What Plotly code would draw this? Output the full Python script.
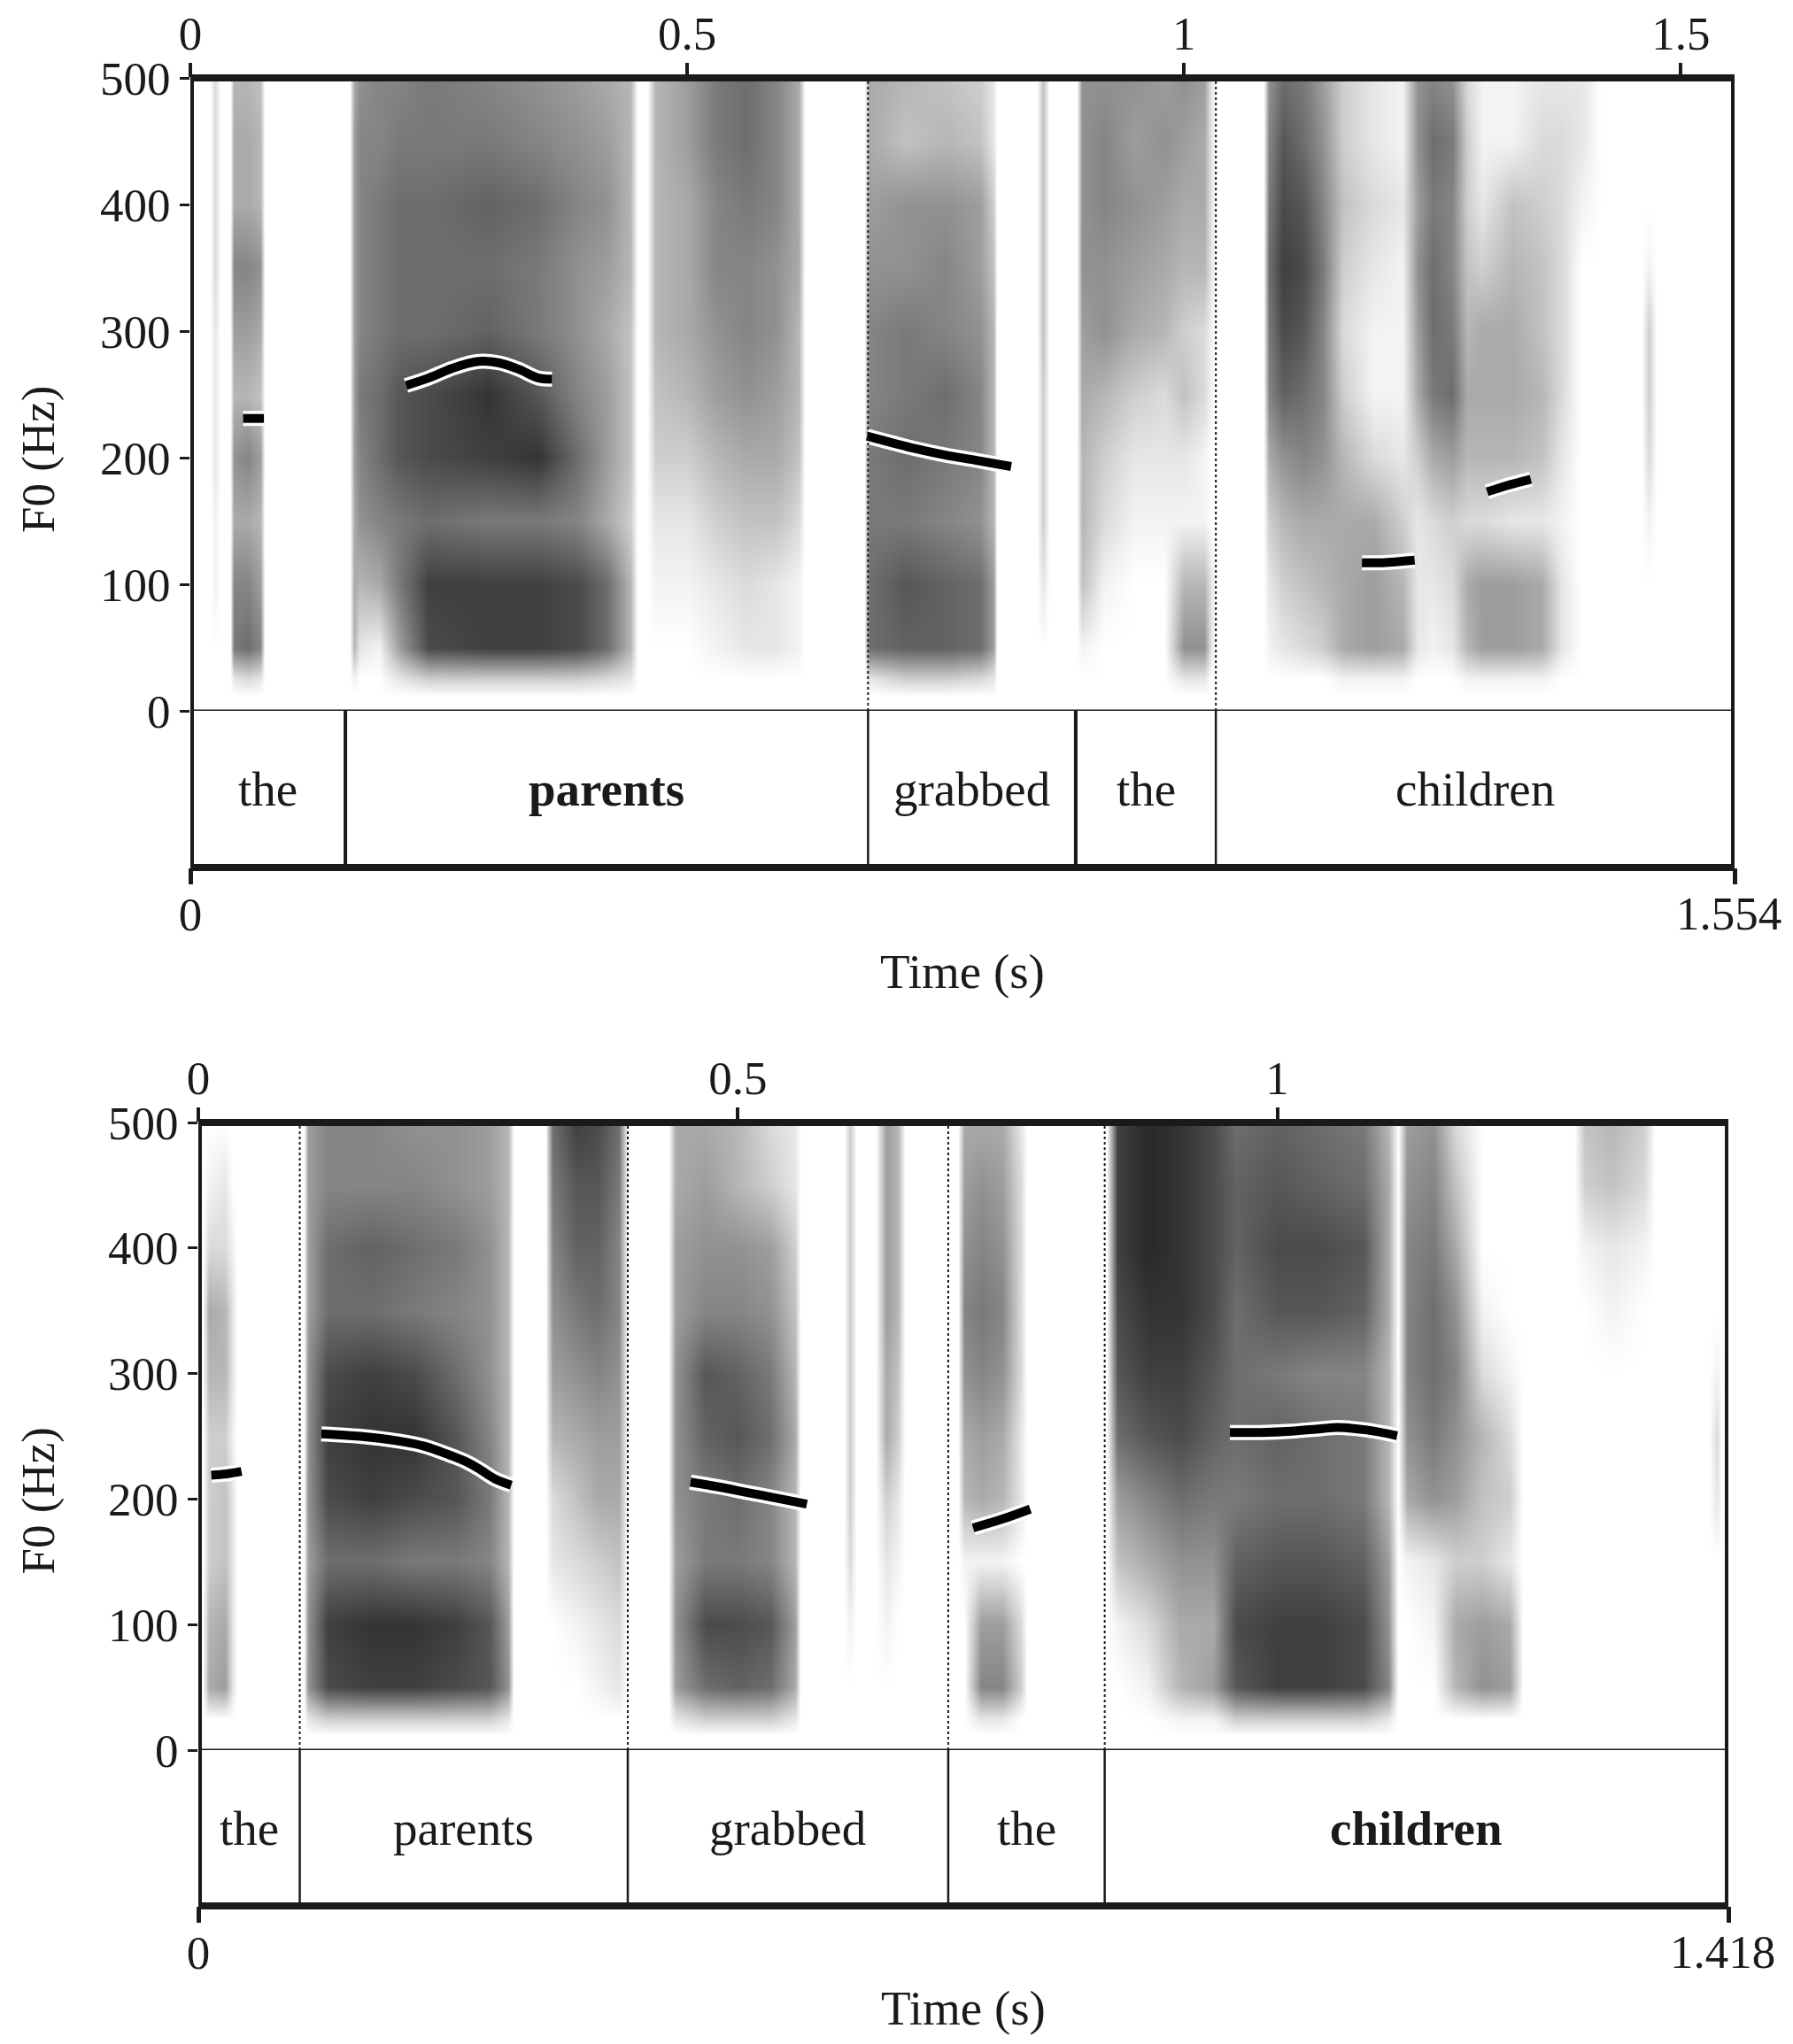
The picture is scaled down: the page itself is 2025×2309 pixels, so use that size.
import plotly.graph_objects as go

# ─────────────────────────────────────────────
# 1. DATA
# ─────────────────────────────────────────────
FREQS = [25, 50, 100, 150, 200, 250, 300, 350, 400, 450, 500]   # Hz rows of spectrogram
W = [0] * 11                                                      # white (silent) column

# --- top utterance: "the PARENTS grabbed the children" ---
top_dur = 1.554
top_words = ["the", "<b>parents</b>", "grabbed", "the", "children"]
top_bounds = [0, 0.156, 0.682, 0.891, 1.032, 1.554]
top_dashed = [0.682, 1.032]           # boundaries drawn dotted through the spectrogram
top_thick = [0.156, 0.891]            # tier boundaries drawn heavier

top_spec_t = [
    0.000, 0.020, 0.025, 0.030, 0.040, 0.044, 0.058, 0.070, 0.075,
    0.160, 0.165, 0.170, 0.190, 0.210, 0.240, 0.300, 0.350, 0.390, 0.420, 0.443, 0.450,
    0.460, 0.468, 0.500, 0.530, 0.560, 0.590, 0.612, 0.618,
    0.678, 0.683, 0.720, 0.760, 0.795, 0.808, 0.812,
    0.852, 0.858, 0.864,
    0.892, 0.897, 0.920, 0.950, 0.980, 1.000, 1.020, 1.027, 1.032,
    1.080, 1.085, 1.100, 1.120, 1.140, 1.160, 1.190, 1.220, 1.235, 1.250, 1.270, 1.285,
    1.300, 1.330, 1.360, 1.380, 1.400, 1.420,
    1.460, 1.468, 1.476, 1.554,
]
top_spec_z = [
    W, W,
    [0, 0, 0.05, 0.05, 0.1, 0.1, 0.1, 0.15, 0.15, 0.15, 0.15],
    W, W,
    [0.1, 0.55, 0.5, 0.35, 0.45, 0.3, 0.4, 0.5, 0.35, 0.35, 0.3],
    [0.15, 0.6, 0.5, 0.35, 0.5, 0.3, 0.4, 0.5, 0.35, 0.35, 0.3],
    [0.1, 0.5, 0.4, 0.3, 0.4, 0.25, 0.35, 0.45, 0.3, 0.3, 0.25],
    W,
    W,
    [0.05, 0.3, 0.35, 0.35, 0.4, 0.4, 0.4, 0.4, 0.4, 0.4, 0.35],
    [0, 0.1, 0.3, 0.45, 0.5, 0.55, 0.5, 0.5, 0.5, 0.5, 0.45],
    [0, 0.05, 0.35, 0.5, 0.6, 0.6, 0.55, 0.55, 0.55, 0.5, 0.5],
    [0.1, 0.4, 0.55, 0.55, 0.7, 0.7, 0.6, 0.6, 0.6, 0.55, 0.5],
    [0.2, 0.75, 0.8, 0.6, 0.75, 0.75, 0.6, 0.6, 0.6, 0.55, 0.55],
    [0.2, 0.8, 0.8, 0.55, 0.8, 0.85, 0.65, 0.6, 0.65, 0.55, 0.5],
    [0.2, 0.8, 0.8, 0.55, 0.85, 0.7, 0.55, 0.55, 0.6, 0.5, 0.45],
    [0.2, 0.75, 0.75, 0.5, 0.6, 0.5, 0.45, 0.45, 0.5, 0.45, 0.4],
    [0.15, 0.6, 0.6, 0.35, 0.4, 0.4, 0.35, 0.4, 0.45, 0.4, 0.35],
    [0.1, 0.3, 0.3, 0.2, 0.25, 0.25, 0.25, 0.3, 0.3, 0.3, 0.3],
    W,
    W,
    [0, 0, 0.05, 0.1, 0.2, 0.25, 0.3, 0.3, 0.3, 0.3, 0.3],
    [0, 0, 0.05, 0.1, 0.2, 0.3, 0.35, 0.35, 0.35, 0.4, 0.4],
    [0, 0.05, 0.1, 0.2, 0.3, 0.4, 0.45, 0.5, 0.5, 0.55, 0.55],
    [0, 0.1, 0.15, 0.25, 0.35, 0.45, 0.5, 0.5, 0.55, 0.6, 0.6],
    [0, 0.1, 0.1, 0.25, 0.35, 0.4, 0.45, 0.45, 0.5, 0.5, 0.5],
    [0, 0.05, 0.05, 0.15, 0.25, 0.3, 0.3, 0.35, 0.35, 0.35, 0.35],
    W,
    W,
    [0.1, 0.6, 0.6, 0.55, 0.55, 0.5, 0.5, 0.45, 0.4, 0.35, 0.35],
    [0.2, 0.65, 0.7, 0.55, 0.6, 0.55, 0.55, 0.45, 0.45, 0.25, 0.3],
    [0.2, 0.65, 0.65, 0.5, 0.55, 0.6, 0.5, 0.5, 0.45, 0.3, 0.25],
    [0.15, 0.6, 0.6, 0.45, 0.5, 0.5, 0.45, 0.4, 0.4, 0.25, 0.2],
    [0.1, 0.4, 0.4, 0.3, 0.3, 0.3, 0.3, 0.25, 0.2, 0.1, 0.1],
    W,
    W,
    [0, 0, 0.1, 0.2, 0.2, 0.2, 0.25, 0.25, 0.25, 0.25, 0.25],
    W,
    W,
    [0, 0.05, 0.25, 0.3, 0.3, 0.35, 0.4, 0.45, 0.45, 0.45, 0.45],
    [0, 0, 0.05, 0.15, 0.2, 0.3, 0.45, 0.45, 0.5, 0.5, 0.45],
    [0, 0, 0, 0.05, 0.1, 0.2, 0.35, 0.4, 0.45, 0.4, 0.45],
    [0, 0, 0, 0.05, 0.1, 0.15, 0.3, 0.35, 0.4, 0.45, 0.4],
    [0.1, 0.45, 0.3, 0.05, 0.1, 0.25, 0.2, 0.3, 0.35, 0.4, 0.45],
    [0.1, 0.45, 0.3, 0.05, 0.05, 0.15, 0.15, 0.3, 0.35, 0.35, 0.4],
    [0, 0.1, 0.1, 0, 0, 0.05, 0.05, 0.1, 0.1, 0.1, 0.1],
    W,
    W,
    [0, 0.05, 0.1, 0.2, 0.35, 0.5, 0.55, 0.6, 0.55, 0.5, 0.45],
    [0, 0.1, 0.2, 0.3, 0.45, 0.65, 0.75, 0.8, 0.75, 0.7, 0.6],
    [0, 0.15, 0.25, 0.35, 0.5, 0.6, 0.7, 0.75, 0.7, 0.6, 0.55],
    [0, 0.2, 0.3, 0.35, 0.45, 0.5, 0.5, 0.55, 0.5, 0.45, 0.4],
    [0.05, 0.35, 0.35, 0.35, 0.3, 0.2, 0.15, 0.2, 0.25, 0.2, 0.2],
    [0.05, 0.4, 0.4, 0.35, 0.15, 0.05, 0.05, 0.1, 0.15, 0.1, 0.1],
    [0.05, 0.35, 0.3, 0.2, 0.1, 0.05, 0.05, 0.05, 0.1, 0.05, 0.05],
    [0, 0.1, 0.1, 0.1, 0.2, 0.35, 0.4, 0.45, 0.4, 0.45, 0.45],
    [0, 0.05, 0.1, 0.15, 0.35, 0.55, 0.6, 0.6, 0.55, 0.6, 0.5],
    [0, 0.1, 0.15, 0.2, 0.4, 0.6, 0.55, 0.5, 0.5, 0.55, 0.45],
    [0.05, 0.3, 0.35, 0.15, 0.3, 0.35, 0.3, 0.25, 0.2, 0.2, 0.15],
    [0.05, 0.4, 0.4, 0.15, 0.3, 0.35, 0.35, 0.2, 0.1, 0.05, 0.05],
    [0.05, 0.4, 0.4, 0.1, 0.3, 0.35, 0.35, 0.3, 0.25, 0.05, 0.05],
    [0.05, 0.35, 0.35, 0.1, 0.25, 0.3, 0.25, 0.25, 0.2, 0.15, 0.1],
    [0, 0.1, 0.1, 0.05, 0.1, 0.15, 0.15, 0.15, 0.15, 0.15, 0.1],
    [0, 0, 0, 0, 0, 0, 0, 0, 0.05, 0.1, 0.1],
    W,
    W,
    [0, 0, 0, 0.05, 0.15, 0.2, 0.2, 0.05, 0, 0, 0],
    W,
    W,
]

top_f0 = [   # (times, Hz) for each voiced stretch
    ([0.053, 0.063, 0.074], [231, 231, 231]),
    ([0.217, 0.24, 0.265, 0.29, 0.31, 0.33, 0.35, 0.364], [257, 263, 271, 276, 275, 270, 263, 262]),
    ([0.681, 0.70, 0.73, 0.76, 0.79, 0.826], [217, 213, 207, 202, 198, 193]),
    ([1.179, 1.20, 1.232], [117, 117, 119]),
    ([1.305, 1.325, 1.349], [173, 178, 183]),
]

# --- bottom utterance: "the parents grabbed the CHILDREN" ---
bot_dur = 1.418
bot_words = ["the", "parents", "grabbed", "the", "<b>children</b>"]
bot_bounds = [0, 0.094, 0.398, 0.695, 0.840, 1.418]
bot_dashed = [0.094, 0.398, 0.695, 0.840]
bot_thick = []

bot_spec_t = [
    0.000, 0.004, 0.010, 0.025, 0.032, 0.036,
    0.098, 0.102, 0.120, 0.160, 0.200, 0.240, 0.270, 0.287, 0.292,
    0.322, 0.328, 0.350, 0.370, 0.390, 0.398,
    0.436, 0.442, 0.470, 0.500, 0.530, 0.553, 0.558,
    0.598, 0.604, 0.610, 0.628, 0.638, 0.648, 0.655,
    0.704, 0.710, 0.725, 0.745, 0.762, 0.768,
    0.842, 0.852, 0.880, 0.910, 0.940, 0.962, 1.000, 1.040, 1.080, 1.103, 1.112,
    1.120, 1.145, 1.165, 1.190, 1.215, 1.228,
    1.275, 1.285, 1.310, 1.340, 1.350,
    1.400, 1.407, 1.412, 1.418,
]
bot_spec_z = [
    W, W,
    [0, 0.35, 0.3, 0.2, 0.2, 0.2, 0.3, 0.35, 0.15, 0.05, 0],
    [0, 0.4, 0.35, 0.25, 0.25, 0.2, 0.3, 0.3, 0.15, 0.1, 0],
    [0, 0.1, 0.1, 0.1, 0.1, 0.05, 0.1, 0.1, 0.05, 0, 0],
    W,
    W,
    [0.1, 0.45, 0.45, 0.4, 0.45, 0.45, 0.45, 0.4, 0.4, 0.4, 0.4],
    [0.2, 0.75, 0.8, 0.6, 0.75, 0.8, 0.75, 0.6, 0.6, 0.5, 0.5],
    [0.2, 0.8, 0.85, 0.6, 0.8, 0.85, 0.8, 0.6, 0.65, 0.5, 0.5],
    [0.2, 0.8, 0.85, 0.55, 0.75, 0.85, 0.75, 0.55, 0.6, 0.5, 0.45],
    [0.2, 0.75, 0.8, 0.55, 0.7, 0.7, 0.6, 0.5, 0.55, 0.45, 0.45],
    [0.2, 0.7, 0.7, 0.5, 0.55, 0.5, 0.45, 0.45, 0.45, 0.4, 0.4],
    [0.1, 0.45, 0.4, 0.3, 0.3, 0.3, 0.3, 0.3, 0.3, 0.3, 0.3],
    W,
    W,
    [0, 0, 0, 0.1, 0.15, 0.3, 0.4, 0.45, 0.5, 0.55, 0.6],
    [0, 0, 0.05, 0.15, 0.25, 0.35, 0.45, 0.55, 0.65, 0.7, 0.8],
    [0, 0.05, 0.1, 0.2, 0.35, 0.4, 0.5, 0.6, 0.65, 0.7, 0.75],
    [0, 0.1, 0.15, 0.25, 0.35, 0.4, 0.45, 0.5, 0.5, 0.55, 0.6],
    W,
    W,
    [0.1, 0.4, 0.45, 0.4, 0.45, 0.45, 0.45, 0.4, 0.4, 0.35, 0.35],
    [0.2, 0.6, 0.75, 0.55, 0.55, 0.65, 0.7, 0.5, 0.45, 0.4, 0.35],
    [0.2, 0.65, 0.75, 0.55, 0.6, 0.7, 0.65, 0.5, 0.45, 0.3, 0.3],
    [0.2, 0.6, 0.7, 0.5, 0.5, 0.6, 0.55, 0.45, 0.4, 0.2, 0.15],
    [0.1, 0.35, 0.4, 0.3, 0.3, 0.35, 0.3, 0.25, 0.2, 0.1, 0.1],
    W,
    W,
    [0, 0, 0.05, 0.15, 0.2, 0.2, 0.2, 0.2, 0.2, 0.2, 0.2],
    W,
    W,
    [0, 0, 0.05, 0.1, 0.2, 0.35, 0.35, 0.4, 0.4, 0.4, 0.4],
    [0, 0, 0, 0.05, 0.1, 0.2, 0.25, 0.3, 0.3, 0.3, 0.3],
    W,
    W,
    [0, 0, 0, 0.05, 0.3, 0.35, 0.45, 0.5, 0.45, 0.4, 0.35],
    [0.1, 0.5, 0.4, 0.05, 0.35, 0.4, 0.5, 0.55, 0.5, 0.45, 0.35],
    [0.1, 0.5, 0.4, 0.05, 0.3, 0.35, 0.45, 0.5, 0.45, 0.4, 0.35],
    [0, 0.2, 0.15, 0, 0.1, 0.1, 0.15, 0.15, 0.15, 0.15, 0.1],
    W,
    W,
    [0, 0, 0.05, 0.25, 0.4, 0.6, 0.7, 0.75, 0.8, 0.8, 0.8],
    [0, 0.05, 0.15, 0.35, 0.5, 0.7, 0.8, 0.85, 0.9, 0.9, 0.9],
    [0.05, 0.3, 0.35, 0.45, 0.6, 0.75, 0.8, 0.85, 0.85, 0.85, 0.85],
    [0.05, 0.4, 0.35, 0.45, 0.55, 0.65, 0.7, 0.75, 0.75, 0.75, 0.75],
    [0.2, 0.7, 0.75, 0.65, 0.55, 0.6, 0.6, 0.6, 0.65, 0.65, 0.6],
    [0.2, 0.8, 0.8, 0.7, 0.6, 0.65, 0.55, 0.7, 0.75, 0.7, 0.65],
    [0.2, 0.8, 0.8, 0.7, 0.6, 0.6, 0.5, 0.7, 0.75, 0.65, 0.6],
    [0.2, 0.75, 0.75, 0.65, 0.55, 0.55, 0.5, 0.65, 0.7, 0.6, 0.55],
    [0.1, 0.5, 0.45, 0.4, 0.3, 0.3, 0.3, 0.35, 0.35, 0.35, 0.3],
    W,
    [0, 0, 0, 0.05, 0.35, 0.45, 0.5, 0.5, 0.5, 0.45, 0.4],
    [0, 0, 0.05, 0.1, 0.45, 0.55, 0.6, 0.6, 0.55, 0.5, 0.45],
    [0, 0.3, 0.35, 0.2, 0.4, 0.45, 0.5, 0.45, 0.35, 0.25, 0.15],
    [0, 0.45, 0.4, 0.2, 0.25, 0.3, 0.15, 0.05, 0, 0, 0],
    [0, 0.4, 0.35, 0.1, 0.2, 0.15, 0.05, 0, 0, 0, 0],
    W,
    W,
    [0, 0, 0, 0, 0, 0, 0, 0, 0.05, 0.2, 0.25],
    [0, 0, 0, 0, 0, 0, 0, 0.05, 0.1, 0.25, 0.3],
    [0, 0, 0, 0, 0, 0, 0, 0, 0.05, 0.15, 0.2],
    W,
    W,
    [0, 0, 0, 0, 0.1, 0.15, 0.05, 0, 0, 0, 0],
    W,
    W,
]

bot_f0 = [
    ([0.012, 0.026, 0.040], [219, 220, 222]),
    ([0.114, 0.15, 0.187, 0.21, 0.23, 0.25, 0.262, 0.275, 0.29], [252, 250, 246, 242, 236, 229, 223, 216, 211]),
    ([0.456, 0.48, 0.51, 0.54, 0.564], [213.5, 210, 205, 200, 196]),
    ([0.718, 0.745, 0.771], [177, 184, 192]),
    ([0.956, 0.985, 1.013, 1.04, 1.056, 1.083, 1.111], [253, 253, 254, 256, 257, 255, 250.5]),
]

# ─────────────────────────────────────────────
# 2. LAYOUT CONSTANTS  (pixels of the 2025 x 2309 page)
# ─────────────────────────────────────────────
PAGE_W, PAGE_H = 2025, 2309
BODY = 8                                   # default page margin around the plot div
FIG_W, FIG_H = PAGE_W - 2 * BODY, PAGE_H - 2 * BODY
FONT = "Liberation Serif, Times New Roman, serif"
INK = "#1a1a1a"
TICK_SIZE = 53
WORD_SIZE = 55
FLOOR_HZ = 12                              # spectrogram fades out below this

# left, right, top of spectrogram, zero line, bottom of tier (page pixels)
PANELS = [
    dict(l=215, r=1959, top=88, zero=803, bot=980, label_y=1097),
    dict(l=224, r=1952, top=1268, zero=1977, bot=2153, label_y=2268),
]


def px_x(v):
    return (v - BODY) / FIG_W


def px_y(v):
    return 1 - (v - BODY) / FIG_H


fig = go.Figure()
shapes, annotations = [], []

panel_data = [
    (top_dur, top_words, top_bounds, top_dashed, top_thick, top_spec_t, top_spec_z, top_f0),
    (bot_dur, bot_words, bot_bounds, bot_dashed, bot_thick, bot_spec_t, bot_spec_z, bot_f0),
]

for i, (p, (dur, words, bounds, dashed, thick, spec_t, spec_z, f0)) in enumerate(zip(PANELS, panel_data)):
    sx, sy = f"x{2*i+1}", f"y{2*i+1}"     # spectrogram axes
    tx, ty = f"x{2*i+2}", f"y{2*i+2}"     # text-tier axes
    xdom = [px_x(p["l"]), px_x(p["r"])]

    # ── spectrogram ──
    zt = [[0] * len(spec_t)] + [list(col) for col in zip(*spec_z)]     # rows = frequencies
    fig.add_trace(go.Heatmap(
        x=spec_t, y=[FLOOR_HZ] + FREQS, z=zt, zmin=0, zmax=1, zsmooth="best",
        colorscale=[[0, "#ffffff"], [0.5, "#858585"], [1, "#111111"]],
        showscale=False, hoverinfo="skip", xaxis=sx, yaxis=sy,
    ))

    # ── F0 contours (white halo + black line) ──
    for ts, hz in f0:
        fig.add_trace(go.Scatter(x=ts, y=hz, mode="lines", xaxis=sx, yaxis=sy,
                                 line=dict(color="white", width=17, shape="spline"),
                                 hoverinfo="skip", showlegend=False))
        fig.add_trace(go.Scatter(x=ts, y=hz, mode="lines", xaxis=sx, yaxis=sy,
                                 line=dict(color="black", width=10, shape="spline"),
                                 hoverinfo="skip", showlegend=False))

    # ── axes ──
    ax_common = dict(domain=xdom, range=[0, dur], showgrid=False, zeroline=False,
                     showline=False, ticks="outside", tickcolor=INK, automargin=False,
                     ticklabeloverflow="allow",
                     tickfont=dict(family=FONT, size=TICK_SIZE, color=INK), fixedrange=True)
    fig.update_layout(**{
        f"xaxis{2*i+1}": dict(ax_common, anchor=sy, side="top",
                              tickvals=[0, 0.5, 1, 1.5], ticktext=["0", "0.5", "1", "1.5"],
                              ticklen=16, tickwidth=4, ticklabelstandoff=-6),
        f"yaxis{2*i+1}": dict(domain=[px_y(p["zero"]), px_y(p["top"])], anchor=sx,
                              range=[0, 500], tickvals=[0, 100, 200, 300, 400, 500],
                              ticks="outside", ticklen=11, tickwidth=3, tickcolor=INK,
                              showgrid=False, zeroline=False, showline=False, automargin=False,
                              tickfont=dict(family=FONT, size=TICK_SIZE, color=INK), fixedrange=True),
        f"xaxis{2*i+2}": dict(ax_common, anchor=ty, side="bottom",
                              tickvals=[0, dur], ticktext=["0", ""],
                              ticklen=18, tickwidth=5, ticklabelstandoff=-12),
        f"yaxis{2*i+2}": dict(domain=[px_y(p["bot"]), px_y(p["zero"])], anchor=tx,
                              range=[0, 1], visible=False, fixedrange=True, automargin=False),
    })

    # end-of-file time, nudged so it stays inside the page
    annotations.append(dict(text=f"{dur:.3f}", x=dur, y=px_y(p["bot"] + 52), xref=tx, yref="paper",
                            xanchor="center", yanchor="middle", xshift=-7, showarrow=False,
                            font=dict(family=FONT, size=TICK_SIZE, color=INK)))

    # ── frame, divider and word boundaries ──
    shapes.append(dict(type="rect", xref=sx, yref="paper", x0=0, x1=dur,
                       y0=px_y(p["bot"]), y1=px_y(p["top"]), line=dict(color=INK, width=8)))
    shapes.append(dict(type="line", xref=sx, yref=sy, x0=0, x1=dur, y0=0, y1=0,
                       line=dict(color=INK, width=3)))
    for b in bounds[1:-1]:
        shapes.append(dict(type="line", xref=tx, yref=ty, x0=b, x1=b, y0=0, y1=1,
                           line=dict(color=INK, width=4 if b in thick else 2.5)))
    for b in dashed:
        shapes.append(dict(type="line", xref=sx, yref=sy, x0=b, x1=b, y0=0, y1=500,
                           line=dict(color=INK, width=2, dash="dot")))

    # ── words ──
    for w, a, b in zip(words, bounds[:-1], bounds[1:]):
        annotations.append(dict(text=w, x=(a + b) / 2, y=0.5, xref=tx, yref=ty,
                                xanchor="center", yanchor="middle", showarrow=False,
                                font=dict(family=FONT, size=WORD_SIZE, color=INK)))

    # ── axis titles ──
    annotations.append(dict(text="Time (s)", x=px_x((p["l"] + p["r"]) / 2), y=px_y(p["label_y"]),
                            xref="paper", yref="paper", xanchor="center", yanchor="middle",
                            showarrow=False, font=dict(family=FONT, size=WORD_SIZE, color=INK)))
    annotations.append(dict(text="F0 (Hz)", x=px_x(43), y=px_y((p["top"] + p["bot"]) / 2 - 15),
                            xref="paper", yref="paper", xanchor="center", yanchor="middle",
                            showarrow=False, textangle=-90,
                            font=dict(family=FONT, size=TICK_SIZE, color=INK)))

fig.update_layout(
    template="none",
    width=FIG_W, height=FIG_H,
    margin=dict(l=0, r=0, t=0, b=0, autoexpand=False),
    paper_bgcolor="white", plot_bgcolor="white",
    showlegend=False,
    shapes=shapes, annotations=annotations,
)

fig.write_html("out.html", config={"displayModeBar": False})
